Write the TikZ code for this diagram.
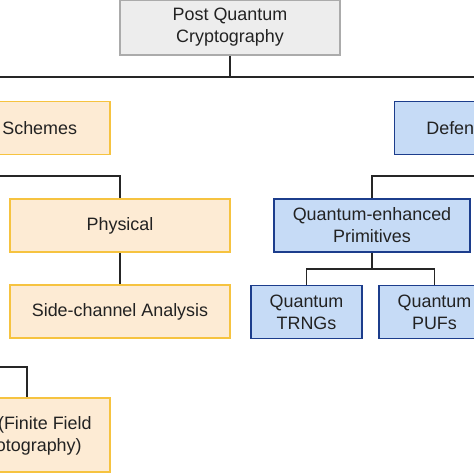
\documentclass[tikz,border=0pt]{standalone}
\usepackage{fontspec}
\setmainfont{Liberation Sans}
\usepackage{xcolor}
\usepackage{tikz}
\usetikzlibrary{calc,positioning}
\definecolor{grayf}{HTML}{EDEDED}
\definecolor{grayd}{HTML}{ABABAB}
\definecolor{orf}{HTML}{FDEBD4}
\definecolor{ord}{HTML}{F6C340}
\definecolor{blf}{HTML}{C6DBF6}
\definecolor{bld}{HTML}{1C3D8C}
\definecolor{txtc}{HTML}{222222}
\tikzset{
  bx/.style={rectangle,line width=1.1pt,minimum height=1.06cm,inner sep=0pt,align=center,font=\fontsize{10.2}{12.5}\selectfont,text=txtc},
  gbx/.style={bx,draw=grayd,fill=grayf},
  obx/.style={bx,draw=ord,fill=orf},
  bbx/.style={bx,draw=bld,fill=blf},
  lbl/.style={inner sep=0pt,font=\fontsize{10.2}{12.5}\selectfont,text=txtc},
  ln/.style={line width=1pt,black!85}
}
\begin{document}
\begin{tikzpicture}[x=0.02cm,y=-0.02cm]
\useasboundingbox (0,0) rectangle (474,474);
\clip (0,0) rectangle (474,474);
% boxes
\node[gbx,minimum width=4.4cm,minimum height=1.1cm] (top) at (230,27.5) {Post Quantum\\Cryptography};
\node[obx,minimum width=3.4cm] (sch) at (25,128) {};
\node[lbl,anchor=west] (schT) at (2,128) {Schemes};
\node[bbx,minimum width=3.3cm] (dfn) at (477,128) {};
\node[lbl,anchor=west] (dfnT) at (426,128) {Defen};
\node[obx,minimum width=4.4cm] (phys) at (120,225.5) {Physical};
\node[obx,minimum width=4.4cm] (side) at (120,311.5) {Side-channel Analysis};
\node[bbx,minimum width=3.92cm] (qep) at (372,225.5) {Quantum-enhanced\\Primitives};
\node[bbx,minimum width=2.22cm] (trng) at (306.5,312) {Quantum\\TRNGs};
\node[bbx,minimum width=2.22cm] (puf) at (434.5,312) {Quantum\\PUFs};
\node[obx,minimum width=3.32cm,minimum height=1.48cm] (ffc) at (27,435) {};
\node[lbl,anchor=east] (ffcA) at (92,425) {(Finite Field};
\node[lbl,anchor=east] (ffcB) at (82,447) {otography)};
% connectors
\coordinate (busL) at (-10,77);
\coordinate (busR) at (484,77);
\coordinate (pL) at (-10,176);
\coordinate (qR) at (484,176);
\coordinate (fL) at (-10,367);
\draw[ln] (top.south) -- (top.south |- busL);
\draw[ln] (busL) -- (busR);
\draw[ln] (pL) -| (phys.north);
\draw[ln] (phys.south) -- (side.north);
\draw[ln] (qR) -| (qep.north);
\draw[ln] (qep.south) -- ++(0,16) -| (trng.north);
\draw[ln] (qep.south) -- ++(0,16) -| (puf.north);
\draw[ln] (fL) -| (ffc.north);
\end{tikzpicture}
\end{document}
